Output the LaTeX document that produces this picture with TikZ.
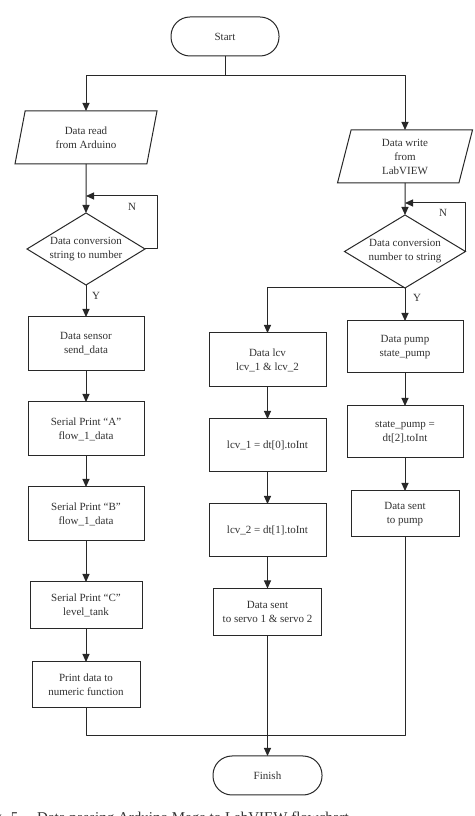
\documentclass[tikz,border=0pt]{standalone}
\usepackage{fontspec}
\setmainfont{Liberation Serif}
\usetikzlibrary{shapes.geometric,arrows.meta}
\begin{document}
\begin{tikzpicture}[x=1pt,y=1pt,
	flowline/.style={draw=drawColor,line width=1pt,line join=round},
	arrowline/.style={flowline,-{Triangle[length=8pt,width=7pt]}},
	textbox/.style={text=textColor,font=\fontsize{11}{14}\selectfont,align=center,inner sep=0pt,outer sep=0pt},
	termbox/.style={textbox,draw=drawColor,line width=1pt,rectangle,rounded corners=19pt,minimum width=108pt,minimum height=39pt},
	procbox/.style={textbox,draw=drawColor,line width=1pt,rectangle,minimum width=116pt,minimum height=54pt},
	iobox/.style={textbox,draw=drawColor,line width=1pt,trapezium,trapezium stretches body,minimum height=53pt},
	decbox/.style={textbox,draw=drawColor,line width=1pt,diamond,aspect=1.64,minimum width=118pt,minimum height=72pt},
	flaglabel/.style={text=textColor,font=\fontsize{11}{14}\selectfont,inner sep=0pt,outer sep=0pt}]
\definecolor{fillColor}{RGB}{255,255,255}
\definecolor{drawColor}{RGB}{40,40,40}
\definecolor{textColor}{RGB}{50,50,50}
\path[use as bounding box,fill=fillColor] (0,0) rectangle (474,816);

\node[termbox] (start) at (225,779.5) {Start};
\node[iobox,trapezium left angle=65,trapezium right angle=115,minimum width=142pt] (dataread) at (86,678.5) {Data read\\from Arduino};
\node[decbox] (convleft) at (86,567) {Data conversion\\string to number};
\node[procbox] (sensor) at (86,472) {Data sensor\\send\_data};
\node[procbox] (printa) at (86,387) {Serial Print “A”\\flow\_1\_data};
\node[procbox] (printb) at (86,302) {Serial Print “B”\\flow\_1\_data};
\node[procbox,minimum width=112pt,minimum height=47pt] (printc) at (86,210.5) {Serial Print “C”\\level\_tank};
\node[procbox,minimum width=108pt,minimum height=46pt] (printnum) at (86,131) {Print data to\\numeric function};

\node[iobox,trapezium left angle=69,trapezium right angle=111,minimum width=135pt] (datawrite) at (405,659.5) {Data write\\from\\LabVIEW};
\node[decbox,minimum width=121pt,minimum height=73pt] (convright) at (405,564.5) {Data conversion\\number to string};
\node[procbox,minimum height=52pt] (pumpdata) at (405,469) {Data pump\\state\_pump};
\node[procbox,minimum height=52pt] (pumpstate) at (405,384) {state\_pump =\\dt[2].toInt};
\node[procbox,minimum width=108pt,minimum height=46pt] (pumpsent) at (405,302) {Data sent\\to pump};

\node[procbox,minimum width=117pt] (lcvdata) at (267.5,456) {Data lcv\\lcv\_1 \& lcv\_2};
\node[procbox,minimum width=117pt,minimum height=53pt] (lcvone) at (267.5,370.5) {lcv\_1 = dt[0].toInt};
\node[procbox,minimum width=117pt,minimum height=53pt] (lcvtwo) at (267.5,285.5) {lcv\_2 = dt[1].toInt};
\node[procbox,minimum width=108pt,minimum height=47pt] (servo) at (267.5,204) {Data sent\\to servo 1 \& servo 2};
\node[termbox,minimum width=109pt] (finish) at (267.5,40.5) {Finish};

\node[flaglabel] (leftno) at (132,609) {N};
\node[flaglabel] (leftyes) at (96,520) {Y};
\node[flaglabel] (rightno) at (443,603) {N};
\node[flaglabel] (rightyes) at (417,518) {Y};

\coordinate (split) at (225,740);
\coordinate (leftmerge) at (86,620);
\coordinate (rightmerge) at (405,613);
\coordinate (join) at (267.5,80);

\path[flowline] (start.south) -- (split);
\path[arrowline] (split) -| (dataread.north);
\path[arrowline] (split) -| (datawrite.north);

\path[arrowline] (dataread.south) -- (convleft.north);
\path[arrowline] (convleft.east) -- ++(12,0) |- (leftmerge);
\path[arrowline] (convleft.south) -- (sensor.north);
\path[arrowline] (sensor.south) -- (printa.north);
\path[arrowline] (printa.south) -- (printb.north);
\path[arrowline] (printb.south) -- (printc.north);
\path[arrowline] (printc.south) -- (printnum.north);

\path[arrowline] (datawrite.south) -- (convright.north);
\path[arrowline] (convright.east) |- (rightmerge);
\path[arrowline] (convright.south) -- (pumpdata.north);
\path[arrowline] (convright.south) -| (lcvdata.north);
\path[arrowline] (pumpdata.south) -- (pumpstate.north);
\path[arrowline] (pumpstate.south) -- (pumpsent.north);

\path[arrowline] (lcvdata.south) -- (lcvone.north);
\path[arrowline] (lcvone.south) -- (lcvtwo.north);
\path[arrowline] (lcvtwo.south) -- (servo.north);

\path[flowline] (printnum.south) |- (join);
\path[flowline] (pumpsent.south) |- (join);
\path[arrowline] (servo.south) -- (finish.north);

\node[text=textColor,font=\fontsize{15}{18}\selectfont,anchor=base west,inner sep=0pt] (caption) at (37,-6) {\llap{Fig. 5.\hspace{15pt}}Data passing Arduino Mega to LabVIEW flowchart};
\end{tikzpicture}
\end{document}
